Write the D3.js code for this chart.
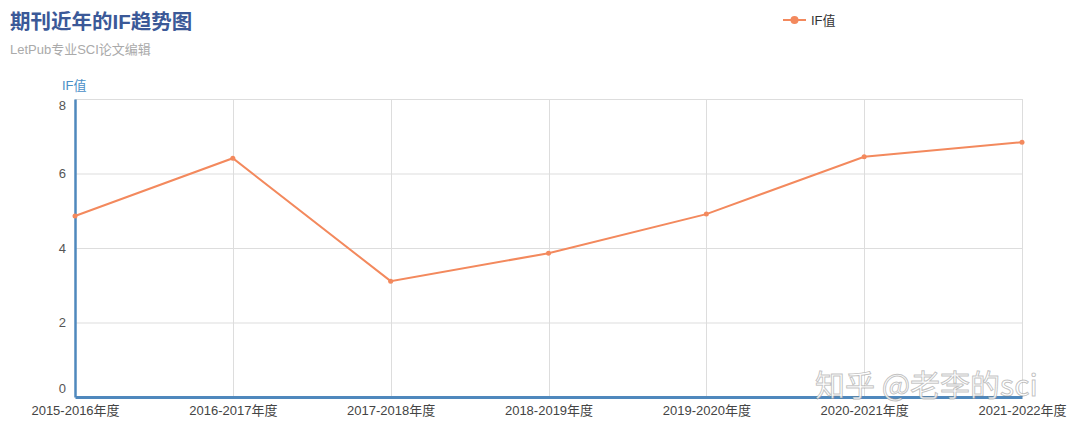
<!DOCTYPE html>
<html><head><meta charset="utf-8">
<script src="https://cdn.jsdelivr.net/npm/d3@7/dist/d3.min.js"></script>
<style>body{margin:0;background:#fff}svg{display:block}</style>
</head><body><svg id="c" width="1080" height="435"></svg>
<script>
const categories = ["2015-2016年度","2016-2017年度","2017-2018年度","2018-2019年度","2019-2020年度","2020-2021年度","2021-2022年度"];
const ifValues = [4.86, 6.41, 3.11, 3.86, 4.91, 6.45, 6.84];
const yTicks = [0, 2, 4, 6, 8];
const seriesName = "IF值";
const titleText = "期刊近年的IF趋势图";
const subtitleText = "LetPub专业SCI论文编辑";

(function () {
const FONT = "'Liberation Sans','Noto Sans CJK SC',Arial,sans-serif";
const svg = d3.select("#c");
const mLeft = 75, mRight = 1022, mTop = 99, mBottom = 397;
const lineColor = "#f3895d", axisColor = "#4f88bd";

const x = d3.scalePoint().domain(categories).range([mLeft, mRight]);
const y = d3.scaleLinear().domain([0, 8]).range([mBottom, mTop]);

// title
svg.append("text").attr("x", 10).attr("y", 29).text(titleText)
  .attr("font-family", FONT).attr("font-size", 20.5).attr("font-weight", "bold").attr("fill", "#3b5998");
svg.append("text").attr("x", 10).attr("y", 54).text(subtitleText)
  .attr("font-family", FONT).attr("font-size", 13).attr("fill", "#aaa");

// legend
const lg = svg.append("g");
lg.append("line").attr("x1", 783).attr("x2", 806).attr("y1", 20).attr("y2", 20)
  .attr("stroke", lineColor).attr("stroke-width", 2);
lg.append("circle").attr("cx", 794.5).attr("cy", 20).attr("r", 4).attr("fill", lineColor);
lg.append("text").attr("x", 811).attr("y", 24.5).text(seriesName)
  .attr("font-family", FONT).attr("font-size", 13).attr("fill", "#333");

// horizontal grid
svg.append("g").selectAll("line").data(yTicks.filter(d => d > 0)).join("line")
  .attr("x1", mLeft).attr("x2", mRight).attr("y1", d => y(d) + 0.5).attr("y2", d => y(d) + 0.5)
  .attr("stroke", "#ddd").attr("stroke-width", 1);
// vertical grid
svg.append("g").selectAll("line").data(categories.slice(1)).join("line")
  .attr("x1", d => Math.round(x(d)) + 0.5).attr("x2", d => Math.round(x(d)) + 0.5)
  .attr("y1", mTop).attr("y2", mBottom)
  .attr("stroke", "#ddd").attr("stroke-width", 1);

// y axis
const yAxis = svg.append("g").attr("transform", `translate(${mLeft},0)`)
  .call(d3.axisLeft(y).tickValues(yTicks).tickSize(0).tickPadding(9));
yAxis.select(".domain").attr("stroke", axisColor).attr("stroke-width", 2.5);
yAxis.selectAll("text").attr("font-family", FONT).attr("font-size", 13).attr("fill", "#555")
  .attr("dy", d => d === 8 ? "0.8em" : d === 0 ? "-0.35em" : "0.32em");

svg.append("text").attr("x", 62).attr("y", 90).text(seriesName)
  .attr("font-family", FONT).attr("font-size", 13).attr("fill", "#4a8fc7");

// x axis
const xAxis = svg.append("g").attr("transform", `translate(0,${mBottom})`)
  .call(d3.axisBottom(x).tickSize(0).tickPadding(9));
xAxis.select(".domain").attr("stroke", axisColor).attr("stroke-width", 3);
xAxis.selectAll("text").attr("font-family", FONT).attr("font-size", 13).attr("fill", "#444");

// line
const data = categories.map((c, i) => ({c, v: ifValues[i]}));
svg.append("path").datum(data)
  .attr("d", d3.line().x(d => x(d.c)).y(d => y(d.v)))
  .attr("fill", "none").attr("stroke", lineColor).attr("stroke-width", 2);
svg.append("g").selectAll("circle").data(data).join("circle")
  .attr("cx", d => x(d.c)).attr("cy", d => y(d.v)).attr("r", 2.5).attr("fill", lineColor);

// watermark
svg.append("text").attr("x", 815).attr("y", 396).text("知乎 @老李的sci")
  .attr("font-family", "'Noto Sans CJK SC',sans-serif").attr("font-size", 30)
  .attr("fill", "rgba(255,255,255,0.85)").attr("stroke", "rgba(120,120,120,0.45)").attr("stroke-width", 1);
})();
</script></body></html>
